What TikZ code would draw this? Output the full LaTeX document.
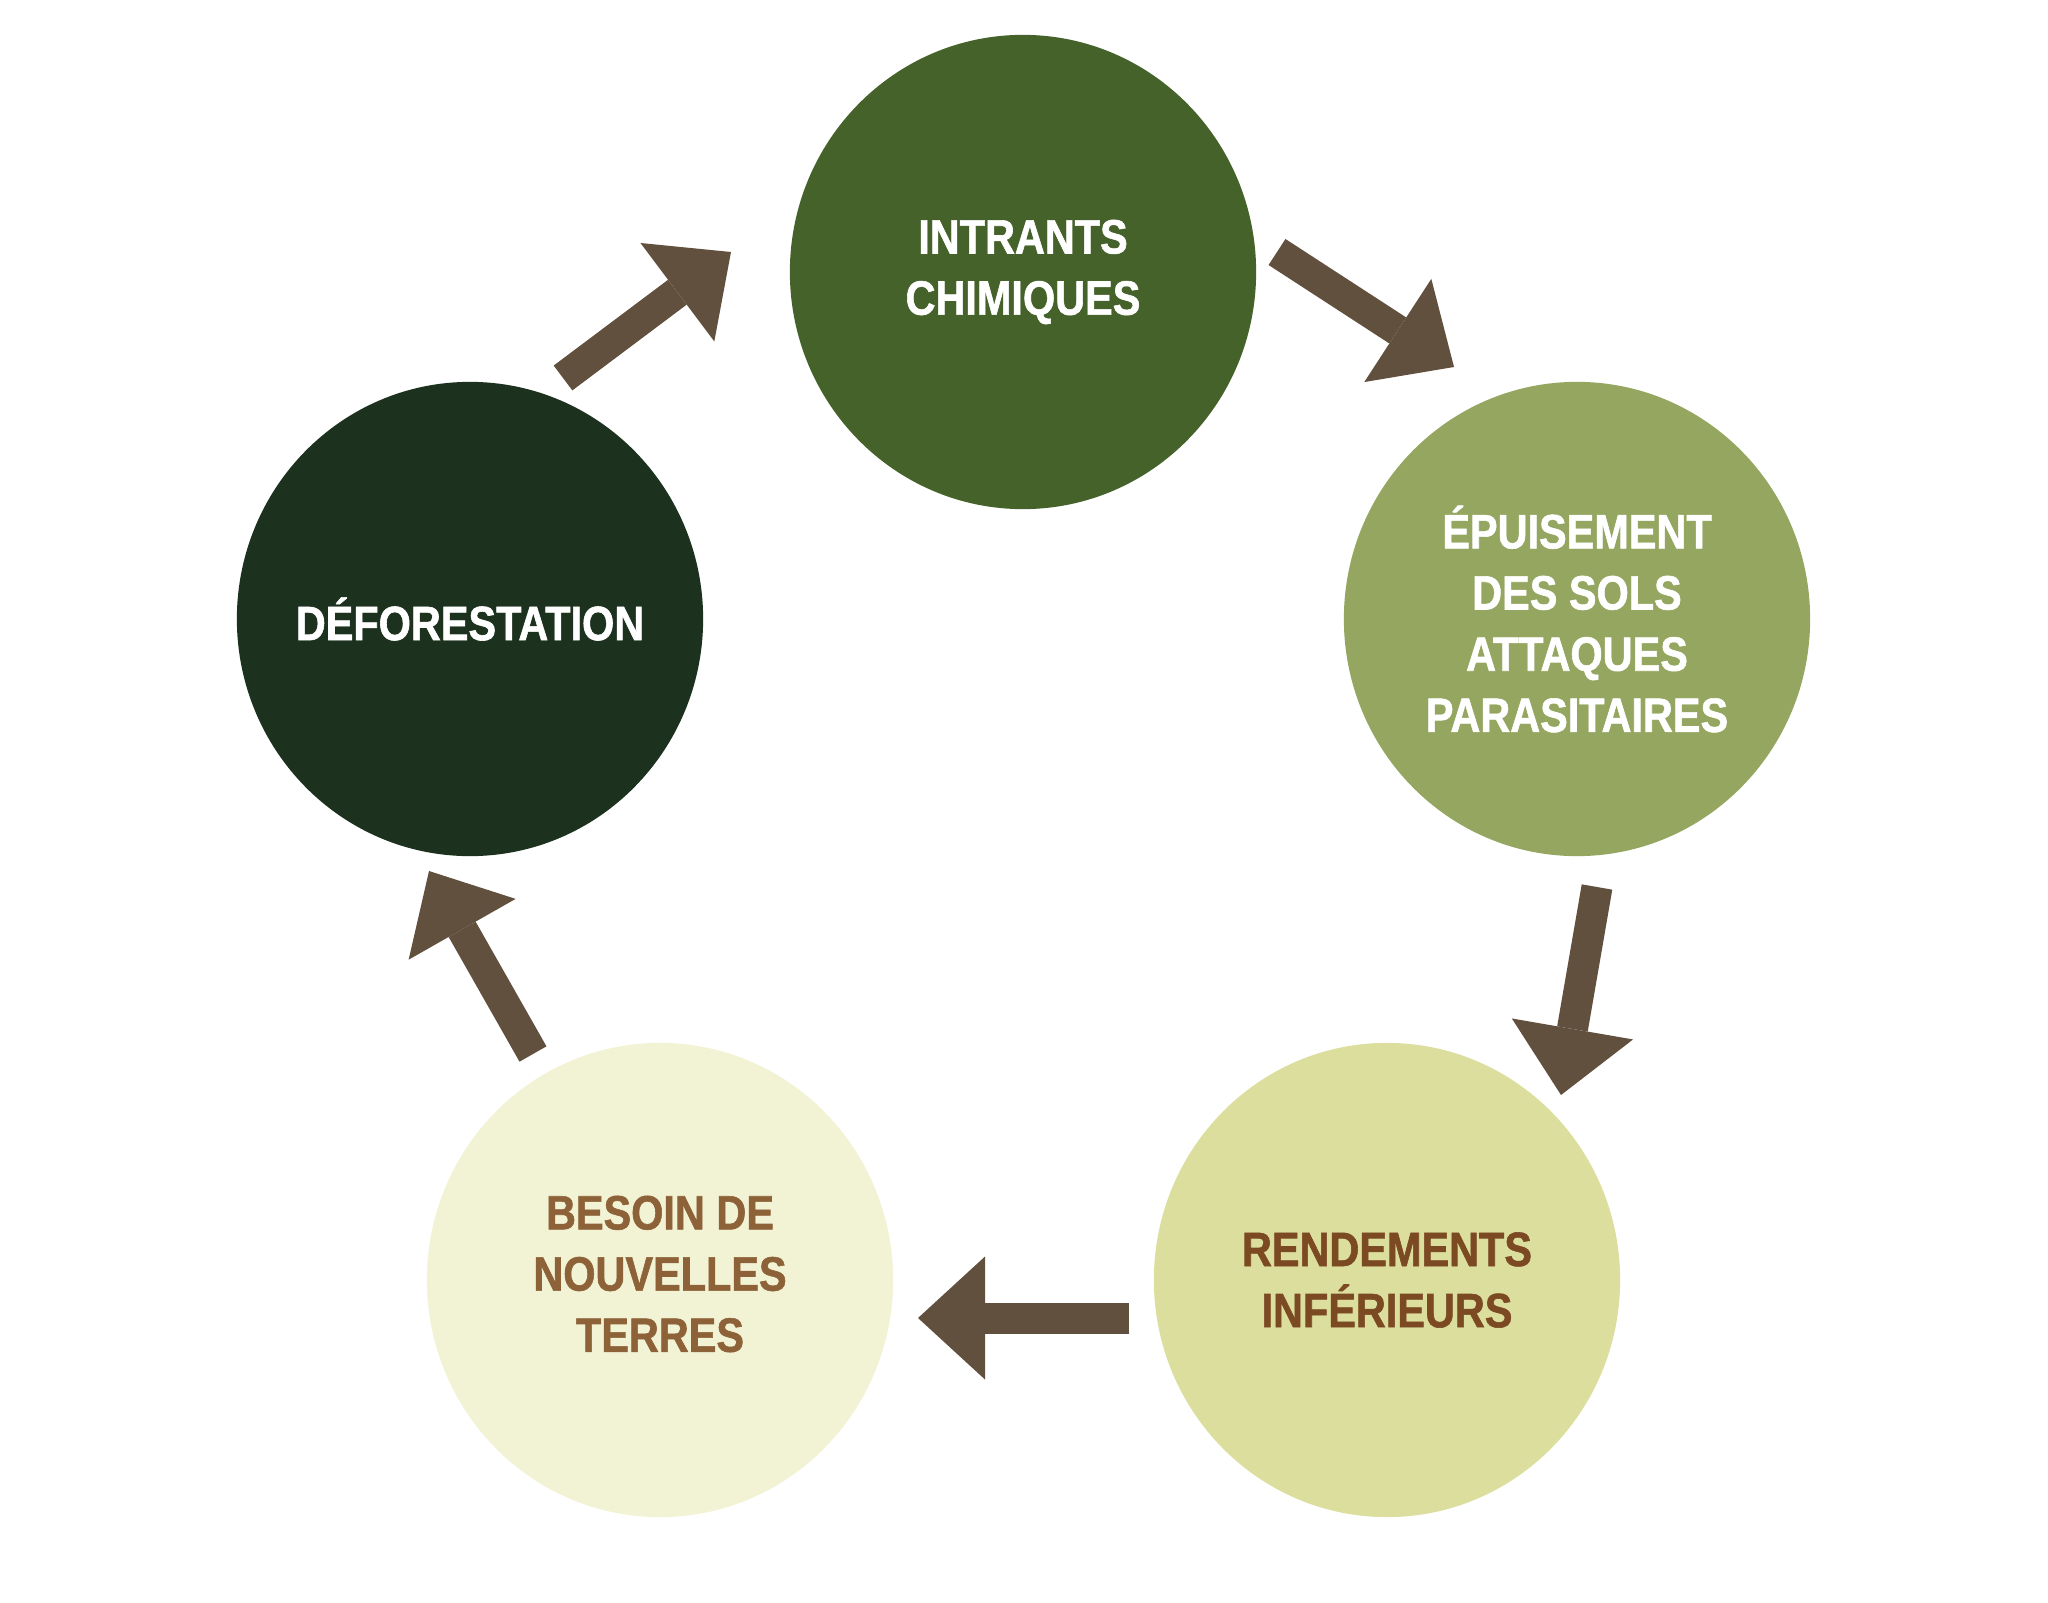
\documentclass[tikz,border=0pt]{standalone}
\usepackage{fontspec}
\newfontfamily\cyclefont{Liberation Sans}[FakeStretch=0.86,FakeBold=1.2]
\usetikzlibrary{arrows.meta,shapes.geometric}
\definecolor{cyforest}{HTML}{1C311E}
\definecolor{cyleaf}{HTML}{45622B}
\definecolor{cymoss}{HTML}{94A660}
\definecolor{cystraw}{HTML}{DCDE9E}
\definecolor{cycream}{HTML}{F2F3D4}
\definecolor{cybrown}{HTML}{62503F}
\definecolor{cyrust}{HTML}{7B4A22}
\definecolor{cyclay}{HTML}{8E6238}
\begin{document}
\begin{tikzpicture}[x=0.01cm, y=-0.01cm,
  bub/.style={ellipse, minimum width=4.66cm, minimum height=4.74cm,
    inner sep=0pt},
  lab/.style={align=center,
    font=\cyclefont\bfseries\fontsize{13.7}{17.4}\selectfont},
  fat/.style={line width=3.1mm, cybrown,
    -{Triangle[length=6.7mm, width=12.3mm, line width=0pt]}}]
\useasboundingbox (0,0) rectangle (2048,1603);
% the five stages
\node[bub, fill=cyleaf, label={[lab, text=white]center:{INTRANTS\\CHIMIQUES}}]
  (intr) at (1023,272) {};
\node[bub, fill=cymoss,
  label={[lab, text=white]center:{ÉPUISEMENT\\DES SOLS\\ATTAQUES\\PARASITAIRES}}]
  (epui) at (1577,619) {};
\node[bub, fill=cystraw, label={[lab, text=cyrust]center:{RENDEMENTS\\INFÉRIEURS}}]
  (rend) at (1387,1280) {};
\node[bub, fill=cycream,
  label={[lab, text=cyclay, yshift=0.06cm]center:{BESOIN DE\\NOUVELLES\\TERRES}}]
  (besn) at (660,1280) {};
\node[bub, fill=cyforest, label={[lab, text=white]center:DÉFORESTATION}]
  (defo) at (470,619) {};
% arrow ends
\coordinate (d2i-s) at (563,378);   \coordinate (d2i-e) at (731,252);
\coordinate (i2e-s) at (1277,252);  \coordinate (i2e-e) at (1454,367);
\coordinate (e2r-s) at (1597,887);  \coordinate (e2r-e) at (1561,1095);
\coordinate (r2b-s) at (1129,1318); \coordinate (r2b-e) at (918,1318);
\coordinate (b2d-s) at (533,1054);  \coordinate (b2d-e) at (429,871);
\draw[fat] (d2i-s) -- (d2i-e);
\draw[fat] (i2e-s) -- (i2e-e);
\draw[fat] (e2r-s) -- (e2r-e);
\draw[fat] (r2b-s) -- (r2b-e);
\draw[fat] (b2d-s) -- (b2d-e);
\end{tikzpicture}
\end{document}
